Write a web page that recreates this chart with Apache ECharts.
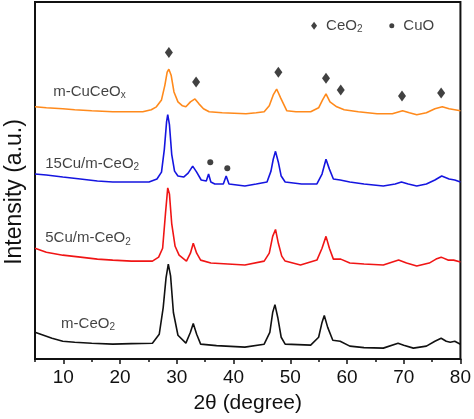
<!DOCTYPE html>
<html lang="en">
<head>
    <meta http-equiv="Content-Type" content="text/html; charset=UTF-8">
    <title>XRD patterns</title>
    <script type="text/javascript" src="https://cdn.jsdelivr.net/npm/echarts@6/dist/echarts.min.js"></script>
</head>

<body style="margin: 0; width: 474px; height: 419px; background: #fff">
<div id="main" style="width: 474px; height: 419px"></div>
<script type="text/javascript">
    // 2θ (degree) vs intensity (a.u.), curves stacked with offsets as in the figure
    var mCuCeOx = [[5,255],[7,254],[9.9,253],[12,252],[15,251],[18.7,250],[21,250],[24,250],[25.5,252],[26.4,255],
        [27.3,262],[27.9,277],[28.3,290],[28.6,293],[29.0,287],[29.5,270],[30.2,260],[31.0,256],[31.6,255],[32.4,260],
        [33.2,263],[33.9,258],[34.7,253],[35.7,250],[38,249],[42.2,248],[44,249],[45.4,250],[46.3,256],[47.0,267],
        [47.6,273],[48.3,264],[49.4,251],[51,250],[53.6,250],[55.0,254],[55.7,262],[56.3,268],[57.0,260],[58.2,255],
        [59.5,252],[62,250],[65.3,248],[68,248],[69.8,251],[71,249],[72.3,247],[74,249],[75.5,253],[76.8,255],
        [78,253],[79,252],[80,251]];
    var cu15 = [[5,187],[7,186],[9.9,184],[13,182],[16,180],[18.7,179],[22,179],[25.1,179],[26.5,182],[27.3,189],
        [27.8,212],[28.2,240],[28.4,247],[28.7,237],[29.1,207],[29.6,190],[30.2,185],[31.2,184],[32.0,188],[32.8,195],
        [33.5,189],[34.3,181],[35.2,180],[35.6,187],[36.0,179],[36.7,177],[38.2,177],[38.7,185],[39.2,177],[42,175],
        [44,177],[45.9,179],[46.6,190],[47.0,202],[47.4,210],[47.9,199],[48.4,185],[49.1,179],[52,177],[54.7,177],
        [55.6,187],[56.3,202],[56.9,192],[57.6,182],[58.8,181],[60.5,179],[63,177],[66.4,175],[68.5,177],[69.6,179],
        [70.8,177],[72.3,175],[74,177],[75.5,181],[76.7,185],[78,182],[79,181],[80,179]];
    var cu5 = [[5,112],[7,108],[9.9,105],[13,103],[16,101],[18.7,100],[22,99],[25.7,99],[26.8,103],[27.5,112],
        [28.0,147],[28.4,173],[28.7,167],[29.1,137],[29.7,114],[30.4,105],[31.7,99],[32.4,107],[32.9,117],[33.5,107],
        [34.2,100],[36,97],[39,96],[42,95],[45.4,99],[46.3,107],[46.9,124],[47.4,131],[47.9,117],[48.5,104],
        [49.1,99],[51.8,95],[54.7,100],[55.6,112],[56.3,124],[56.9,112],[57.6,101],[58.9,101],[60.5,97],[63,96],
        [66.4,95],[69.1,100],[70.5,97],[72.3,94],[74.5,97],[75.7,101],[76.6,103],[77.8,100],[78.8,100],[80,98]];
    var mCeO2 = [[5,27],[6.5,24],[8,21],[9.9,18],[12,17],[15,16],[18.7,15],[22,15.5],[25.7,16],[26.9,25],
        [27.6,52],[28.1,82],[28.5,96],[28.9,84],[29.4,47],[30.2,24],[31.6,16],[32.4,27],[32.9,36],[33.5,25],
        [34.2,15],[37,13.5],[42,12],[45.4,15],[46.4,27],[46.9,47],[47.3,55],[47.8,42],[48.4,22],[49.1,15],
        [53.6,14],[55.0,22],[55.6,37],[56.0,44],[56.6,32],[57.5,19],[58.8,18],[60.5,13],[63,11.5],[66.4,11],
        [69,16],[70,14],[71.7,11],[74,13],[75.5,18],[76.6,21],[77.5,18],[78.2,17],[79,18],[80,15]];

    // phase markers
    var ceo2Marks = [[28.6,310],[33.4,280],[47.9,290],[56.3,284],[58.9,272],[69.7,266],[76.6,269]];
    var cuoMarks = [[35.9,199],[38.9,193]];

    // sample names: [2θ, intensity, rich text]
    var sampleLabels = [
        [8.2, 270, 'm-CuCeO{s|x}'],
        [6.8, 197, '15Cu/m-CeO{s|2}'],
        [6.8, 122, '5Cu/m-CeO{s|2}'],
        [9.6, 36, 'm-CeO{s|2}']
    ];
    var legendItems = [
        [54.2, 337, 'diamond', 'CeO{s|2}'],
        [67.9, 337, 'circle', 'CuO']
    ];

    var majorTicks = [10, 20, 30, 40, 50, 60, 70, 80];
    var minorTicks = [5, 15, 25, 35, 45, 55, 65, 75];

    var FONT = 'Liberation Sans, Arial, sans-serif';
    var richSub = { s: { fontSize: 10, fontFamily: FONT, color: '#111', padding: [7, 0, 0, 0] } };

    function curve(name, data, color) {
        return {
            name: name, type: 'line', data: data, showSymbol: false, smooth: false,
            lineStyle: { color: color, width: 1.6 }, silent: true, z: 3
        };
    }

    var myChart = echarts.init(document.getElementById('main'));

    myChart.setOption({
        animation: false,
        grid: { left: 35, right: 12, top: 2, bottom: 57, show: true, borderColor: '#111', borderWidth: 2 },
        xAxis: [{
            type: 'value', min: 5, max: 80,
            name: '2\u03b8 (degree)', nameLocation: 'middle', nameGap: 34,
            nameTextStyle: { fontSize: 21, fontFamily: FONT, color: '#111' },
            axisLine: { show: true, lineStyle: { color: '#111', width: 2 } },
            axisTick: { show: true, length: 5, lineStyle: { color: '#111', width: 1.5 }, customValues: majorTicks },
            axisLabel: { fontSize: 19, fontFamily: FONT, color: '#111', margin: 9, customValues: majorTicks },
            splitLine: { show: false }
        }, {
            type: 'value', min: 5, max: 80, position: 'bottom',
            axisLine: { show: false },
            axisTick: { show: true, length: 3, lineStyle: { color: '#111', width: 1.5 }, customValues: minorTicks },
            axisLabel: { show: false },
            splitLine: { show: false }
        }],
        yAxis: {
            type: 'value', min: 0, max: 361,
            axisLine: { show: true, lineStyle: { color: '#111', width: 2 } },
            axisTick: { show: false }, axisLabel: { show: false }, splitLine: { show: false }
        },
        graphic: [{
            type: 'text', x: 15, y: 192, rotation: Math.PI / 2,
            style: { text: 'Intensity (a.u.)', font: '23px ' + FONT, fill: '#111', align: 'center', verticalAlign: 'middle' }
        }],
        series: [
            curve('m-CuCeOx', mCuCeOx, '#FF8A1C'),
            curve('15Cu/m-CeO2', cu15, '#1515E0'),
            curve('5Cu/m-CeO2', cu5, '#F01515'),
            curve('m-CeO2', mCeO2, '#111111'),
            {
                type: 'scatter', data: ceo2Marks, symbol: 'diamond', symbolSize: [8, 11],
                itemStyle: { color: '#111' }, silent: true
            },
            {
                type: 'scatter', data: cuoMarks, symbol: 'circle', symbolSize: 6,
                itemStyle: { color: '#111' }, silent: true
            },
            {
                type: 'scatter', symbolSize: 0, silent: true,
                data: sampleLabels.map(function (d) { return { value: [d[0], d[1]], text: d[2] }; }),
                label: {
                    show: true, position: 'right', distance: 0,
                    formatter: function (p) { return p.data.text; },
                    fontSize: 15, fontFamily: FONT, color: '#111', rich: richSub
                }
            },
            {
                type: 'scatter', silent: true,
                data: legendItems.map(function (d) {
                    return { value: [d[0], d[1]], symbol: d[2], symbolSize: d[2] === 'diamond' ? [6, 8] : 5, text: d[3] };
                }),
                itemStyle: { color: '#111' },
                label: {
                    show: true, position: 'right', distance: 9,
                    formatter: function (p) { return p.data.text; },
                    fontSize: 15, fontFamily: FONT, color: '#111', rich: richSub
                }
            }
        ]
    });
</script>
</body>
</html>
